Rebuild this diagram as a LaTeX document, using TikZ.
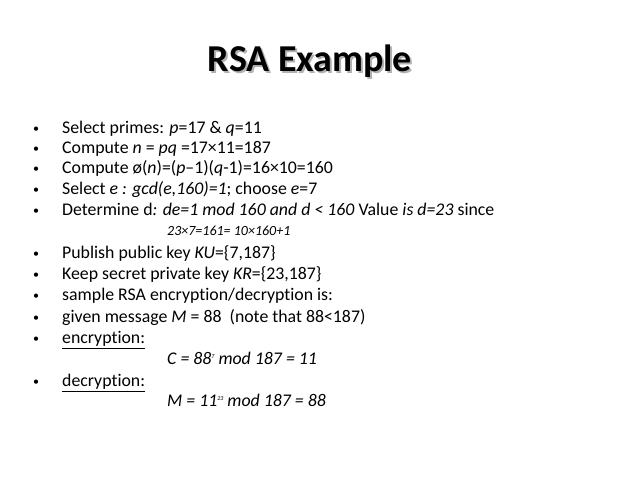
\documentclass[tikz,border=0pt]{standalone}
\usepackage{fontspec}
\setmainfont[Ligatures=NoCommon]{Carlito}
\begin{document}
\begin{tikzpicture}[x=1pt,y=-1pt,
  ln/.style={anchor=base west,inner sep=0,font=\fontsize{17.8}{20}\selectfont},
  sub/.style={anchor=base west,inner sep=0,font=\fontsize{14}{16}\selectfont\itshape},
  bul/.style={anchor=base,inner sep=0,font=\fontsize{12}{14}\selectfont}]
\useasboundingbox (0,0) rectangle (638,478);
\node[font=\fontsize{38}{44}\selectfont\bfseries,text=gray!60] at (312,63) {RSA Example};
\node[font=\fontsize{38}{44}\selectfont\bfseries] (title) at (310,61) {RSA Example};
\foreach \y/\n in {134/b1,154/b2,174/b3,195/b4,216/b5,259/b6,280/b7,301/b8,323/b9,344/b10,387/b11}
  \node[bul] (\n) at (36,\y-1) {•};
\node[ln] (l1) at (62,134) {Select primes: \textit{p}=17 \& \textit{q}=11};
\node[ln] (l2) at (62,154) {Compute \textit{n} = \textit{pq} =17×11=187};
\node[ln] (l3) at (62,174) {Compute ø(\textit{n})=(\textit{p}–1)(\textit{q}-1)=16×10=160};
\node[ln] (l4) at (62,195) {Select \textit{e : gcd(e,160)=1}; choose \textit{e}=7};
\node[ln] (l5) at (62,216) {Determine d\textit{: de=1 mod 160 and d < 160} Value \textit{is d=23} since};
\node[sub] (l5b) at (167,236) {23×7=161= 10×160+1};
\node[ln] (l6) at (62,259) {Publish public key \textit{KU}=\{7,187\}};
\node[ln] (l7) at (62,280) {Keep secret private key \textit{KR}=\{23,187\}};
\node[ln] (l8) at (62,301) {sample RSA encryption/decryption is:};
\node[ln] (l9) at (62,323) {given message \textit{M} = 88 \ (note that 88<187)};
\node[ln] (l10) at (62,344) {\underline{encryption:}};
\node[ln] (l11) at (167,365) {\textit{C = 88\raisebox{0.8ex}{\fontsize{6}{7}\selectfont 7} mod 187 = 11}};
\node[ln] (l12) at (62,387) {\underline{decryption:}};
\node[ln] (l13) at (167,407) {\textit{M = 11\raisebox{0.8ex}{\fontsize{6}{7}\selectfont 23} mod 187 = 88}};
\end{tikzpicture}
\end{document}
